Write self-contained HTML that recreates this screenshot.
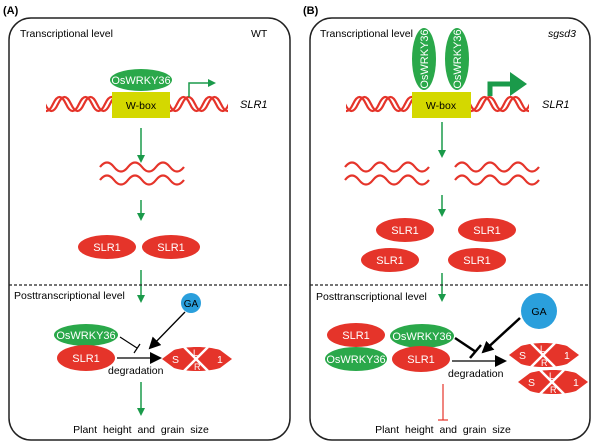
<!DOCTYPE html>
<html><head><meta charset="utf-8"><style>
html,body{margin:0;padding:0;background:#fff}
svg{display:block}
text{font-family:"Liberation Sans",Arial,sans-serif}
</style></head><body>
<svg width="600" height="445" viewBox="0 0 600 445" xmlns="http://www.w3.org/2000/svg">
<defs>
<marker id="ga" markerWidth="8" markerHeight="8" refX="6" refY="4" orient="auto" markerUnits="userSpaceOnUse"><path d="M0,0 L8,4 L0,8 Z" fill="#1a9a4a"/></marker>
<marker id="bk" markerWidth="12" markerHeight="12" refX="10" refY="6" orient="auto" markerUnits="userSpaceOnUse"><path d="M0,0 L12,6 L0,12 Z" fill="#000"/></marker>
<clipPath id="hc"><rect x="0" y="90" width="66" height="30"/></clipPath>
<clipPath id="hc2"><rect x="0" y="90" width="58" height="30"/></clipPath>
<g id="frag">
<path d="M0,11 L12,2 C25,-2 45,-2 58,2 L70,11 L58,20 C45,24 25,24 12,20 Z" fill="#e5342a"/>
<line x1="22" y1="-1" x2="46" y2="23" stroke="#fff" stroke-width="2.5"/>
<line x1="46" y1="-1" x2="22" y2="23" stroke="#fff" stroke-width="2.5"/>
<text x="10" y="15" font-size="10.5" fill="#fff">S</text>
<text x="31" y="8" font-size="9" fill="#fff">L</text>
<text x="32" y="22" font-size="9" fill="#fff">R</text>
<text x="55" y="15" font-size="10.5" fill="#fff">1</text>
</g>
<g id="hw" fill="none" stroke="#e5342a" stroke-width="2.2">
<path d="M-6,104 q6.5,14 13,0 t13,0 t13,0 t13,0 t13,0 t13,0"/>
<path d="M-1,104 q6.5,14 13,0 t13,0 t13,0 t13,0 t13,0 t13,0"/>
</g>
<g id="helix" clip-path="url(#hc)"><use href="#hw"/></g>
<g id="helix2" clip-path="url(#hc2)"><use href="#hw"/></g>
<g id="mrna" fill="none" stroke="#e5342a" stroke-width="2.2">
<path d="M0,0 q7,-9 14,0 t14,0 t14,0 t14,0 t14,0 t14,0"/>
<path d="M0,13 q7,-9 14,0 t14,0 t14,0 t14,0 t14,0 t14,0"/>
</g>
</defs>

<!-- Panel A -->
<text x="3" y="14" font-size="11" font-weight="bold" font-family="Liberation Serif">(A)</text>
<rect x="9" y="18" width="281" height="422" rx="22" fill="none" stroke="#222" stroke-width="1.5"/>
<text x="20" y="37" font-size="10.5">Transcriptional level</text>
<text x="251" y="37" font-size="10.5">WT</text>
<use href="#helix" x="46"/>
<use href="#helix2" x="170"/>
<rect x="112" y="92" width="58" height="26" fill="#d4d800"/>
<text x="141" y="109" font-size="10.5" text-anchor="middle">W-box</text>
<ellipse cx="141" cy="80" rx="31" ry="11" fill="#2aa84a"/>
<text x="141" y="84" font-size="11" fill="#fff" text-anchor="middle">OsWRKY36</text>
<polyline points="189,97 189,83 214,83" fill="none" stroke="#1a9a4a" stroke-width="1.5" marker-end="url(#ga)"/>
<text x="240" y="108" font-size="11" font-style="italic">SLR1</text>
<line x1="141" y1="128" x2="141" y2="161" stroke="#1a9a4a" stroke-width="1.5" marker-end="url(#ga)"/>
<use href="#mrna" x="100" y="167"/>
<line x1="141" y1="200" x2="141" y2="219" stroke="#1a9a4a" stroke-width="1.5" marker-end="url(#ga)"/>
<ellipse cx="107" cy="247" rx="29" ry="12" fill="#e5342a"/>
<text x="107" y="251" font-size="11" fill="#fff" text-anchor="middle">SLR1</text>
<ellipse cx="171" cy="247" rx="29" ry="12" fill="#e5342a"/>
<text x="171" y="251" font-size="11" fill="#fff" text-anchor="middle">SLR1</text>
<line x1="141" y1="270" x2="141" y2="301" stroke="#1a9a4a" stroke-width="1.5" marker-end="url(#ga)"/>
<line x1="9" y1="285" x2="290" y2="285" stroke="#222" stroke-width="1.2" stroke-dasharray="3,2"/>
<text x="14" y="299" font-size="10.5">Posttranscriptional level</text>
<circle cx="191" cy="303" r="10" fill="#2a9fdc"/>
<text x="191" y="307" font-size="10" text-anchor="middle">GA</text>
<ellipse cx="86" cy="335" rx="32" ry="11" fill="#2aa84a"/>
<text x="86" y="339" font-size="11" fill="#fff" text-anchor="middle">OsWRKY36</text>
<ellipse cx="86" cy="358" rx="29" ry="13" fill="#e5342a"/>
<text x="86" y="362" font-size="11" fill="#fff" text-anchor="middle">SLR1</text>
<line x1="120" y1="337" x2="137" y2="348" stroke="#000" stroke-width="1.2"/>
<line x1="134" y1="353" x2="140" y2="344" stroke="#000" stroke-width="1.2"/>
<line x1="185" y1="312" x2="150" y2="348" stroke="#000" stroke-width="1.3" marker-end="url(#bk)"/>
<line x1="117" y1="358" x2="160" y2="358" stroke="#000" stroke-width="1.3" marker-end="url(#bk)"/>
<text x="108" y="374" font-size="10.5">degradation</text>
<use href="#frag" x="162" y="348"/>
<line x1="141" y1="382" x2="141" y2="414" stroke="#1a9a4a" stroke-width="1.5" marker-end="url(#ga)"/>
<text x="141" y="433" font-size="10.5" text-anchor="middle" word-spacing="3">Plant height and grain size</text>

<!-- Panel B -->
<text x="303" y="14" font-size="11" font-weight="bold" font-family="Liberation Serif">(B)</text>
<rect x="310" y="18" width="280" height="422" rx="22" fill="none" stroke="#222" stroke-width="1.5"/>
<text x="320" y="37" font-size="10.5">Transcriptional level</text>
<text x="576" y="37" font-size="10.5" font-style="italic" text-anchor="end">sgsd3</text>
<use href="#helix" x="346"/>
<use href="#helix2" x="471"/>
<rect x="412" y="92" width="59" height="26" fill="#d4d800"/>
<text x="441" y="109" font-size="10.5" text-anchor="middle">W-box</text>
<ellipse cx="424" cy="59" rx="12" ry="31" fill="#2aa84a"/>
<text transform="translate(428,59) rotate(-90)" font-size="11" fill="#fff" text-anchor="middle">OsWRKY36</text>
<ellipse cx="457" cy="59" rx="12" ry="31" fill="#2aa84a"/>
<text transform="translate(461,59) rotate(-90)" font-size="11" fill="#fff" text-anchor="middle">OsWRKY36</text>
<polyline points="490,96 490,84 512,84" fill="none" stroke="#1a9a4a" stroke-width="5"/>
<path d="M510,72 L527,84 L510,96 Z" fill="#1a9a4a"/>
<text x="542" y="108" font-size="11" font-style="italic">SLR1</text>
<line x1="442" y1="122" x2="442" y2="156" stroke="#1a9a4a" stroke-width="1.5" marker-end="url(#ga)"/>
<use href="#mrna" x="345" y="167"/>
<use href="#mrna" x="455" y="167"/>
<line x1="442" y1="195" x2="442" y2="215" stroke="#1a9a4a" stroke-width="1.5" marker-end="url(#ga)"/>
<ellipse cx="405" cy="230" rx="29" ry="12" fill="#e5342a"/>
<text x="405" y="234" font-size="11" fill="#fff" text-anchor="middle">SLR1</text>
<ellipse cx="487" cy="230" rx="29" ry="12" fill="#e5342a"/>
<text x="487" y="234" font-size="11" fill="#fff" text-anchor="middle">SLR1</text>
<ellipse cx="390" cy="260" rx="29" ry="12" fill="#e5342a"/>
<text x="390" y="264" font-size="11" fill="#fff" text-anchor="middle">SLR1</text>
<ellipse cx="477" cy="260" rx="29" ry="12" fill="#e5342a"/>
<text x="477" y="264" font-size="11" fill="#fff" text-anchor="middle">SLR1</text>
<line x1="442" y1="273" x2="442" y2="300" stroke="#1a9a4a" stroke-width="1.5" marker-end="url(#ga)"/>
<line x1="310" y1="285" x2="590" y2="285" stroke="#222" stroke-width="1.2" stroke-dasharray="3,2"/>
<text x="316" y="300" font-size="10.5">Posttranscriptional level</text>
<circle cx="539" cy="311" r="18" fill="#2a9fdc"/>
<text x="539" y="315" font-size="10.5" text-anchor="middle">GA</text>
<ellipse cx="356" cy="335" rx="29" ry="12" fill="#e5342a"/>
<text x="356" y="339" font-size="11" fill="#fff" text-anchor="middle">SLR1</text>
<ellipse cx="422" cy="336" rx="32" ry="12" fill="#2aa84a"/>
<text x="422" y="340" font-size="11" fill="#fff" text-anchor="middle">OsWRKY36</text>
<ellipse cx="356" cy="359" rx="31" ry="12" fill="#2aa84a"/>
<text x="356" y="363" font-size="11" fill="#fff" text-anchor="middle">OsWRKY36</text>
<ellipse cx="421" cy="359" rx="29" ry="13" fill="#e5342a"/>
<text x="421" y="363" font-size="11" fill="#fff" text-anchor="middle">SLR1</text>
<line x1="455" y1="338" x2="476" y2="352" stroke="#000" stroke-width="2.5"/>
<line x1="470" y1="358" x2="481" y2="345" stroke="#000" stroke-width="2.5"/>
<line x1="520" y1="318" x2="483" y2="352" stroke="#000" stroke-width="2.5" marker-end="url(#bk)"/>
<line x1="452" y1="361" x2="505" y2="361" stroke="#000" stroke-width="1.3" marker-end="url(#bk)"/>
<text x="448" y="377" font-size="10.5">degradation</text>
<use href="#frag" x="509" y="344"/>
<use href="#frag" x="518" y="371"/>
<line x1="443" y1="384" x2="443" y2="420" stroke="#e5342a" stroke-width="1.2"/>
<line x1="438" y1="420" x2="448" y2="420" stroke="#e5342a" stroke-width="1.2"/>
<text x="443" y="433" font-size="10.5" text-anchor="middle" word-spacing="3">Plant height and grain size</text>
</svg>
</body></html>
